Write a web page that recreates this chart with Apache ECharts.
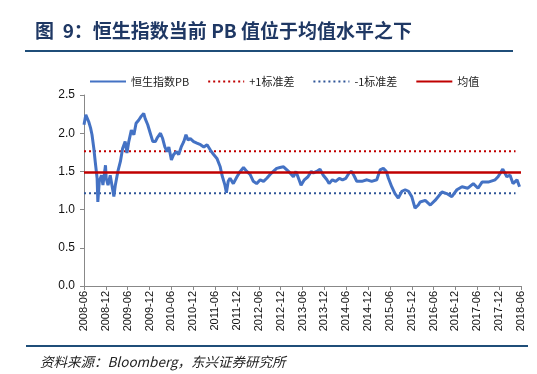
<!DOCTYPE html>
<html><head><meta charset="utf-8">
<script src="https://cdn.jsdelivr.net/npm/echarts@6/dist/echarts.min.js"></script>
<style>html,body{margin:0;padding:0;background:#fff;}#c{width:537px;height:374px;}</style>
</head><body><div id="c"></div>
<script>
// months since 2008-06
const months = [0,0.5,1.3,1.8,2.2,2.7,3.1,3.6,3.8,4.2,4.8,5.2,5.9,6.1,6.6,7.2,8.2,8.6,9.3,10.0,10.6,11.3,11.8,12.3,13.0,13.7,14.3,15.0,15.7,16.4,16.8,17.5,18.2,18.9,19.6,20.1,21.0,21.6,22.2,22.8,23.3,24.0,24.6,25.4,26.0,26.7,27.4,28.0,28.6,29.2,30.1,31.0,32.0,32.9,33.8,34.7,35.6,36.5,37.4,37.9,38.7,39.1,39.6,40.1,41.0,42.0,42.9,43.8,44.7,45.6,46.5,47.4,48.4,49.3,50.2,51.1,52.0,52.9,53.8,54.8,55.7,56.6,57.5,58.2,58.9,59.6,60.5,61.5,62.4,63.0,63.9,64.8,65.7,66.7,67.3,68.2,69.1,70.1,71.0,71.9,72.8,73.5,74.3,74.9,76.3,77.7,79.0,80.4,81.3,82.2,83.0,83.6,84.5,85.4,86.3,87.3,88.2,89.1,90.0,90.9,91.8,92.3,93.7,95.1,96.4,98.3,99.6,101.0,102.4,103.8,105.4,106.9,108.2,109.3,111.0,112.9,113.7,115.0,116.1,117.0,117.8,118.9,119.6];
const pb = [2.11,2.24,2.15,2.07,1.98,1.80,1.62,1.41,1.10,1.37,1.45,1.32,1.58,1.41,1.32,1.45,1.17,1.32,1.50,1.63,1.80,1.89,1.74,1.89,2.04,1.98,2.13,2.17,2.22,2.26,2.19,2.11,2.00,1.89,1.89,1.94,2.00,1.93,1.82,1.76,1.82,1.65,1.72,1.76,1.72,1.82,1.89,1.98,1.91,1.93,1.89,1.87,1.85,1.82,1.85,1.78,1.72,1.67,1.56,1.45,1.32,1.22,1.37,1.41,1.34,1.43,1.50,1.55,1.50,1.46,1.37,1.34,1.39,1.37,1.41,1.46,1.50,1.54,1.55,1.56,1.52,1.48,1.43,1.50,1.41,1.32,1.39,1.43,1.50,1.48,1.50,1.53,1.45,1.39,1.34,1.39,1.37,1.41,1.39,1.41,1.48,1.50,1.43,1.37,1.37,1.39,1.37,1.39,1.52,1.54,1.50,1.41,1.30,1.21,1.15,1.24,1.26,1.24,1.17,1.02,1.06,1.10,1.12,1.06,1.12,1.23,1.21,1.17,1.26,1.30,1.28,1.34,1.28,1.36,1.36,1.39,1.43,1.53,1.43,1.45,1.34,1.39,1.30];
const meanValue = 1.485;
const plusOneStd = 1.765;
const minusOneStd = 1.215;
const tickLabels = ['2008-06','2008-12','2009-06','2009-12','2010-06','2010-12','2011-06','2011-12','2012-06','2012-12','2013-06','2013-12','2014-06','2014-12','2015-06','2015-12','2016-06','2016-12','2017-06','2017-12','2018-06'];
const seriesNames = ['恒生指数PB','+1标准差','-1标准差','均值'];

const chart = echarts.init(document.getElementById('c'), null, {renderer:'canvas'});
const font = '"Noto Sans CJK SC", "Liberation Sans", sans-serif';
const lineSpan = v => [[0, v], [118.5, v]];
chart.setOption({
  animation: false,
  backgroundColor: '#fff',
  graphic: [
    {type:'text', left: 35, top: 21, style:{text:'图  9：恒生指数当前 PB 值位于均值水平之下', font:'bold 19px '+font, fill:'#1F3864'}},
    {type:'rect', shape:{x:25, y:50, width:488, height:2}, style:{fill:'#1F4E79'}},
    {type:'rect', shape:{x:26, y:345, width:502, height:2}, style:{fill:'#1F4E79'}},
    {type:'text', left: 40, top: 355, style:{text:'资料来源：Bloomberg，东兴证券研究所', font:'italic 13.5px '+font, fill:'#222'}}
  ],
  grid: {left: 84, right: 16, top: 95, bottom: 88},
  legend: {
    top: 71, left: 84, itemWidth: 36, itemHeight: 10, itemGap: 18,
    itemStyle: {opacity: 0},
    textStyle: {fontSize: 11, color: '#222', fontFamily: font},
    data: seriesNames
  },
  xAxis: {
    type: 'value', min: 0, max: 120, interval: 6,
    axisLine: {lineStyle: {color: '#888'}},
    axisTick: {show: true, length: 4, lineStyle: {color: '#888'}},
    splitLine: {show: false},
    axisLabel: {rotate: 90, fontSize: 11, color: '#111', fontFamily: '"Liberation Sans", sans-serif', margin: 5,
      formatter: v => tickLabels[Math.round(v / 6)] || ''}
  },
  yAxis: {
    type: 'value', min: 0, max: 2.5, interval: 0.5,
    axisLine: {show: true, lineStyle: {color: '#888'}},
    axisTick: {show: true, length: 4, lineStyle: {color: '#888'}},
    splitLine: {show: false},
    axisLabel: {fontSize: 12, color: '#111', fontFamily: '"Liberation Sans", sans-serif', margin: 9,
      formatter: v => v.toFixed(1)}
  },
  series: [
    {name: seriesNames[0], type: 'line', showSymbol: false, symbol: 'none', z: 3,
      data: months.map((m, i) => [m, pb[i]]),
      lineStyle: {color: '#4472C4', width: 3}, itemStyle: {color: '#4472C4'}},
    {name: seriesNames[1], type: 'line', showSymbol: false, symbol: 'none', z: 2,
      data: lineSpan(plusOneStd),
      lineStyle: {color: '#C00000', width: 2, type: [2, 3]}, itemStyle: {color: '#C00000'}},
    {name: seriesNames[2], type: 'line', showSymbol: false, symbol: 'none', z: 2,
      data: lineSpan(minusOneStd),
      lineStyle: {color: '#2F5597', width: 2, type: [2, 3]}, itemStyle: {color: '#2F5597'}},
    {name: seriesNames[3], type: 'line', showSymbol: false, symbol: 'none', z: 4,
      data: [[0, meanValue], [120, meanValue]],
      lineStyle: {color: '#C00000', width: 2.5}, itemStyle: {color: '#C00000'}}
  ]
});
</script></body></html>
